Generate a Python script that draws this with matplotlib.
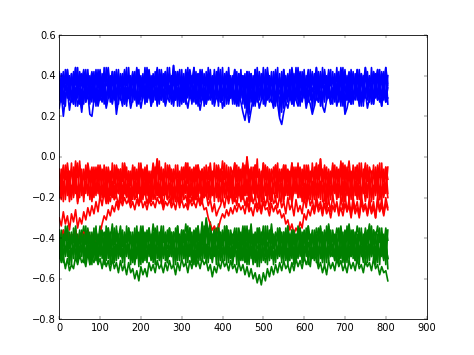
import matplotlib
matplotlib.use("Agg")
import matplotlib.pyplot as plt
import numpy as np

plt.style.use('classic')

# sample index (every 5th step)
steps = np.arange(0, 810, 5)

# blue traces
blue_1 = [0.40,0.34,0.42,0.36,0.43,0.33,0.39,0.35,0.44,0.32,0.41,0.37,0.43,0.34,0.40,0.36,0.42,0.33,
          0.39,0.35,0.43,0.32,0.40,0.37,0.44,0.34,0.41,0.33,0.42,0.36,0.39,0.31,0.43,0.35,0.40,0.34,
          0.42,0.33,0.44,0.36,0.39,0.32,0.41,0.37,0.43,0.34,0.40,0.35,0.44,0.33,0.41,0.36,0.42,0.34,
          0.40,0.35,0.45,0.33,0.42,0.36,0.39,0.32,0.43,0.35,0.41,0.37,0.44,0.34,0.40,0.33,0.42,0.36,
          0.39,0.34,0.43,0.31,0.41,0.36,0.44,0.33,0.40,0.35,0.42,0.32,0.39,0.36,0.43,0.34,0.41,0.33,
          0.38,0.32,0.42,0.35,0.40,0.31,0.43,0.36,0.39,0.33,0.41,0.34,0.44,0.35,0.40,0.32,0.42,0.36,
          0.39,0.33,0.43,0.35,0.41,0.32,0.44,0.36,0.40,0.34,0.42,0.33,0.39,0.35,0.43,0.34,0.41,0.36,
          0.44,0.33,0.40,0.35,0.42,0.32,0.43,0.36,0.39,0.34,0.41,0.33,0.44,0.35,0.40,0.36,0.42,0.33,
          0.39,0.35,0.43,0.32,0.41,0.36,0.44,0.34,0.40,0.33,0.42,0.37,0.43,0.34,0.41,0.35,0.44,0.36]
blue_2 = [0.30,0.37,0.27,0.35,0.31,0.39,0.28,0.34,0.30,0.38,0.26,0.33,0.36,0.29,0.40,0.31,0.35,0.27,
          0.34,0.29,0.38,0.30,0.36,0.27,0.35,0.31,0.39,0.28,0.33,0.37,0.30,0.35,0.26,0.34,0.29,0.38,
          0.31,0.36,0.28,0.39,0.30,0.35,0.27,0.37,0.32,0.29,0.38,0.31,0.34,0.28,0.40,0.30,0.36,0.29,
          0.35,0.31,0.39,0.28,0.34,0.30,0.37,0.27,0.36,0.32,0.29,0.38,0.31,0.35,0.27,0.39,0.30,0.34,
          0.29,0.37,0.31,0.35,0.27,0.38,0.30,0.34,0.28,0.36,0.31,0.39,0.29,0.33,0.26,0.35,0.30,0.37,
          0.28,0.34,0.25,0.36,0.30,0.33,0.27,0.38,0.29,0.35,0.31,0.37,0.28,0.34,0.30,0.39,0.27,0.35,
          0.31,0.36,0.28,0.34,0.30,0.38,0.27,0.35,0.32,0.29,0.37,0.31,0.36,0.28,0.39,0.30,0.34,0.29,
          0.36,0.30,0.38,0.28,0.35,0.31,0.37,0.29,0.34,0.27,0.36,0.31,0.39,0.30,0.35,0.28,0.37,0.32,
          0.29,0.36,0.31,0.38,0.28,0.35,0.30,0.37,0.27,0.34,0.31,0.39,0.29,0.36,0.30,0.38,0.28,0.34]
blue_3 = [0.24,0.31,0.20,0.29,0.33,0.23,0.30,0.26,0.34,0.25,0.30,0.22,0.32,0.27,0.31,0.21,0.20,0.28,
          0.32,0.25,0.30,0.27,0.35,0.24,0.29,0.31,0.26,0.33,0.21,0.28,0.30,0.25,0.34,0.27,0.31,0.24,
          0.29,0.33,0.26,0.31,0.24,0.30,0.35,0.27,0.32,0.25,0.29,0.34,0.26,0.31,0.28,0.33,0.25,0.30,
          0.27,0.32,0.25,0.34,0.28,0.30,0.26,0.33,0.29,0.24,0.31,0.27,0.35,0.26,0.30,0.23,0.29,0.32,
          0.26,0.31,0.28,0.34,0.25,0.30,0.27,0.33,0.24,0.29,0.31,0.26,0.33,0.28,0.30,0.25,0.32,0.27,
          0.22,0.18,0.25,0.17,0.23,0.29,0.26,0.31,0.24,0.28,0.30,0.25,0.33,0.27,0.29,0.24,0.31,0.26,
          0.19,0.16,0.22,0.27,0.24,0.30,0.26,0.32,0.28,0.25,0.31,0.27,0.33,0.24,0.29,0.26,0.21,0.25,
          0.30,0.27,0.32,0.25,0.22,0.28,0.31,0.26,0.29,0.33,0.25,0.30,0.27,0.32,0.21,0.24,0.29,0.26,
          0.31,0.28,0.33,0.25,0.30,0.27,0.32,0.24,0.29,0.31,0.26,0.33,0.28,0.30,0.25,0.32,0.27,0.29]
blue_4 = [0.36,0.30,0.40,0.33,0.38,0.29,0.41,0.34,0.37,0.31,0.42,0.35,0.38,0.30,0.41,0.33,0.39,0.32,
          0.41,0.34,0.37,0.30,0.40,0.35,0.38,0.29,0.42,0.33,0.39,0.31,0.41,0.36,0.37,0.30,0.40,0.34,
          0.38,0.31,0.41,0.35,0.37,0.30,0.42,0.34,0.39,0.32,0.40,0.36,0.38,0.31,0.43,0.35,0.37,0.33,
          0.41,0.32,0.39,0.35,0.42,0.30,0.38,0.34,0.40,0.31,0.43,0.36,0.37,0.33,0.41,0.30,0.39,0.35,
          0.37,0.32,0.40,0.35,0.38,0.30,0.42,0.33,0.39,0.31,0.41,0.36,0.37,0.32,0.40,0.34,0.38,0.31,
          0.40,0.33,0.37,0.29,0.41,0.34,0.38,0.31,0.42,0.35,0.39,0.30,0.40,0.33,0.37,0.31,0.41,0.34,
          0.38,0.30,0.41,0.34,0.37,0.31,0.40,0.35,0.42,0.32,0.39,0.34,0.41,0.30,0.38,0.35,0.40,0.33,
          0.37,0.31,0.42,0.34,0.39,0.30,0.41,0.35,0.38,0.32,0.40,0.34,0.37,0.31,0.42,0.33,0.39,0.35,
          0.41,0.32,0.38,0.34,0.40,0.31,0.42,0.35,0.37,0.33,0.41,0.30,0.39,0.34,0.42,0.32,0.38,0.35]
blue_5 = [0.42,0.27,0.40,0.25,0.43,0.28,0.41,0.26,0.44,0.29,0.40,0.24,0.42,0.27,0.43,0.26,0.41,0.28,
          0.43,0.26,0.40,0.28,0.44,0.25,0.41,0.27,0.42,0.29,0.43,0.26,0.40,0.28,0.42,0.25,0.44,0.27,
          0.41,0.28,0.43,0.26,0.40,0.29,0.44,0.27,0.42,0.25,0.41,0.28,0.43,0.26,0.40,0.27,0.42,0.29,
          0.44,0.26,0.45,0.28,0.41,0.25,0.43,0.27,0.40,0.29,0.42,0.26,0.44,0.28,0.41,0.27,0.43,0.25,
          0.42,0.28,0.40,0.26,0.43,0.29,0.41,0.27,0.44,0.25,0.42,0.28,0.40,0.26,0.43,0.27,0.41,0.29,
          0.40,0.24,0.42,0.21,0.41,0.25,0.43,0.27,0.40,0.28,0.44,0.26,0.41,0.29,0.42,0.25,0.43,0.27,
          0.41,0.22,0.43,0.26,0.40,0.28,0.42,0.25,0.44,0.27,0.41,0.29,0.43,0.26,0.40,0.28,0.42,0.25,
          0.44,0.27,0.41,0.25,0.43,0.28,0.40,0.26,0.42,0.29,0.44,0.27,0.41,0.25,0.43,0.28,0.40,0.26,
          0.42,0.29,0.43,0.27,0.41,0.25,0.44,0.28,0.40,0.26,0.42,0.29,0.43,0.27,0.41,0.28,0.44,0.26]
blue_6 = [0.28,0.41,0.26,0.43,0.29,0.40,0.27,0.42,0.25,0.44,0.28,0.41,0.26,0.43,0.29,0.40,0.27,0.42,
          0.25,0.43,0.28,0.41,0.26,0.44,0.29,0.40,0.27,0.42,0.25,0.43,0.28,0.41,0.26,0.44,0.29,0.40,
          0.27,0.42,0.25,0.43,0.28,0.41,0.26,0.44,0.29,0.40,0.27,0.42,0.25,0.43,0.28,0.41,0.26,0.44,
          0.29,0.40,0.27,0.42,0.25,0.43,0.28,0.41,0.26,0.44,0.29,0.40,0.27,0.42,0.25,0.43,0.28,0.41,
          0.26,0.44,0.29,0.40,0.27,0.42,0.25,0.43,0.28,0.41,0.26,0.44,0.29,0.40,0.27,0.42,0.25,0.43,
          0.26,0.41,0.23,0.42,0.27,0.40,0.25,0.44,0.28,0.41,0.26,0.43,0.29,0.40,0.27,0.42,0.25,0.44,
          0.20,0.42,0.24,0.40,0.27,0.43,0.26,0.41,0.28,0.44,0.25,0.42,0.29,0.40,0.27,0.43,0.23,0.41,
          0.28,0.42,0.25,0.44,0.27,0.40,0.29,0.43,0.26,0.41,0.28,0.42,0.25,0.44,0.23,0.40,0.27,0.43,
          0.26,0.41,0.28,0.43,0.25,0.40,0.29,0.42,0.27,0.44,0.26,0.41,0.28,0.43,0.25,0.42,0.27,0.40]

# red traces
red_1 = [-0.08,-0.13,-0.05,-0.11,-0.03,-0.12,-0.06,-0.14,-0.02,-0.10,-0.04,-0.13,-0.07,-0.11,-0.03,-0.09,-0.05,-0.14,
         -0.06,-0.12,-0.04,-0.10,-0.07,-0.15,-0.05,-0.11,-0.08,-0.13,-0.04,-0.10,-0.06,-0.12,-0.03,-0.11,-0.07,-0.14,
         -0.05,-0.10,-0.07,-0.13,-0.04,-0.11,-0.06,-0.14,-0.08,-0.12,-0.03,-0.09,-0.01,-0.11,-0.05,-0.13,-0.07,-0.10,
         -0.04,-0.12,-0.06,-0.10,-0.08,-0.14,-0.05,-0.11,-0.03,-0.13,-0.07,-0.10,-0.05,-0.12,-0.04,-0.09,-0.06,-0.14,
         -0.07,-0.11,-0.03,-0.13,-0.06,-0.10,-0.04,-0.12,-0.02,-0.11,-0.07,-0.14,-0.05,-0.09,-0.03,-0.12,-0.06,-0.10,
         -0.04,-0.11,0.00,-0.09,-0.06,-0.13,-0.04,-0.10,-0.07,-0.12,-0.03,-0.11,-0.05,-0.13,-0.06,-0.09,-0.04,-0.12,
         -0.07,-0.10,-0.04,-0.13,-0.06,-0.11,-0.03,-0.12,-0.08,-0.10,-0.05,-0.14,-0.07,-0.11,-0.04,-0.12,-0.06,-0.10,
         -0.03,-0.11,-0.01,-0.12,-0.05,-0.09,-0.07,-0.13,-0.04,-0.10,-0.06,-0.12,-0.03,-0.11,-0.05,-0.09,-0.02,-0.12,
         -0.06,-0.10,-0.04,-0.13,-0.07,-0.11,-0.03,-0.12,-0.05,-0.09,-0.06,-0.13,-0.04,-0.10,-0.07,-0.12,-0.05,-0.11]
red_2 = [-0.15,-0.21,-0.12,-0.18,-0.10,-0.22,-0.14,-0.19,-0.11,-0.23,-0.16,-0.13,-0.20,-0.12,-0.18,-0.15,-0.22,-0.11,
         -0.17,-0.13,-0.21,-0.14,-0.19,-0.10,-0.23,-0.16,-0.12,-0.20,-0.15,-0.18,-0.11,-0.22,-0.14,-0.19,-0.13,-0.21,
         -0.16,-0.12,-0.20,-0.14,-0.22,-0.11,-0.18,-0.15,-0.21,-0.13,-0.17,-0.10,-0.19,-0.14,-0.23,-0.12,-0.18,-0.16,
         -0.13,-0.21,-0.15,-0.19,-0.11,-0.22,-0.14,-0.18,-0.12,-0.20,-0.16,-0.13,-0.21,-0.15,-0.19,-0.11,-0.23,-0.14,
         -0.18,-0.12,-0.21,-0.15,-0.19,-0.13,-0.22,-0.16,-0.11,-0.20,-0.14,-0.18,-0.12,-0.23,-0.15,-0.19,-0.13,-0.21,
         -0.14,-0.19,-0.11,-0.22,-0.16,-0.13,-0.20,-0.15,-0.24,-0.12,-0.18,-0.14,-0.21,-0.13,-0.19,-0.16,-0.22,-0.12,
         -0.17,-0.13,-0.21,-0.15,-0.19,-0.11,-0.23,-0.16,-0.12,-0.20,-0.14,-0.18,-0.13,-0.22,-0.15,-0.19,-0.12,-0.21,
         -0.15,-0.20,-0.12,-0.18,-0.14,-0.23,-0.11,-0.19,-0.16,-0.13,-0.21,-0.15,-0.18,-0.12,-0.22,-0.14,-0.20,-0.13,
         -0.18,-0.12,-0.21,-0.16,-0.19,-0.13,-0.22,-0.15,-0.11,-0.20,-0.14,-0.18,-0.12,-0.21,-0.15,-0.19,-0.13,-0.20]
red_3 = [-0.38,-0.41,-0.36,-0.40,-0.37,-0.42,-0.38,-0.39,-0.36,-0.41,-0.38,-0.40,-0.37,-0.39,-0.36,-0.40,-0.38,-0.41,
         -0.42,-0.43,-0.38,-0.33,-0.29,-0.31,-0.26,-0.29,-0.24,-0.27,-0.22,-0.26,-0.21,-0.24,-0.20,-0.23,-0.21,-0.25,
         -0.22,-0.26,-0.21,-0.24,-0.20,-0.25,-0.22,-0.26,-0.21,-0.24,-0.22,-0.25,-0.20,-0.23,-0.21,-0.26,-0.22,-0.24,
         -0.21,-0.25,-0.22,-0.26,-0.20,-0.24,-0.21,-0.25,-0.23,-0.26,-0.21,-0.24,-0.22,-0.25,-0.20,-0.24,-0.22,-0.26,
         -0.25,-0.30,-0.33,-0.36,-0.34,-0.37,-0.35,-0.31,-0.28,-0.30,-0.26,-0.29,-0.25,-0.28,-0.24,-0.27,-0.23,-0.26,
         -0.24,-0.28,-0.22,-0.27,-0.25,-0.29,-0.23,-0.27,-0.24,-0.28,-0.22,-0.26,-0.25,-0.29,-0.23,-0.27,-0.24,-0.28,
         -0.26,-0.30,-0.28,-0.33,-0.31,-0.36,-0.33,-0.38,-0.35,-0.37,-0.32,-0.35,-0.28,-0.31,-0.26,-0.29,-0.24,-0.28,
         -0.22,-0.27,-0.24,-0.29,-0.23,-0.28,-0.25,-0.30,-0.24,-0.27,-0.22,-0.28,-0.25,-0.29,-0.23,-0.27,-0.24,-0.30,
         -0.23,-0.28,-0.25,-0.30,-0.22,-0.27,-0.24,-0.29,-0.23,-0.28,-0.25,-0.30,-0.22,-0.27,-0.24,-0.29,-0.23,-0.26]
red_4 = [-0.30,-0.34,-0.27,-0.33,-0.29,-0.36,-0.28,-0.32,-0.26,-0.35,-0.30,-0.33,-0.27,-0.31,-0.25,-0.29,-0.24,-0.28,
         -0.22,-0.27,-0.19,-0.24,-0.17,-0.23,-0.18,-0.22,-0.16,-0.21,-0.19,-0.24,-0.17,-0.22,-0.15,-0.20,-0.18,-0.23,
         -0.16,-0.21,-0.18,-0.24,-0.15,-0.20,-0.17,-0.23,-0.19,-0.22,-0.16,-0.21,-0.14,-0.20,-0.18,-0.24,-0.16,-0.21,
         -0.19,-0.23,-0.16,-0.22,-0.18,-0.25,-0.15,-0.21,-0.19,-0.24,-0.17,-0.22,-0.16,-0.21,-0.18,-0.23,-0.15,-0.20,
         -0.18,-0.24,-0.21,-0.27,-0.23,-0.29,-0.26,-0.24,-0.20,-0.25,-0.18,-0.23,-0.17,-0.22,-0.19,-0.24,-0.16,-0.21,
         -0.18,-0.24,-0.20,-0.26,-0.17,-0.23,-0.19,-0.25,-0.21,-0.27,-0.18,-0.24,-0.20,-0.26,-0.17,-0.23,-0.21,-0.25,
         -0.19,-0.25,-0.22,-0.28,-0.20,-0.26,-0.23,-0.29,-0.21,-0.27,-0.24,-0.28,-0.20,-0.25,-0.18,-0.24,-0.21,-0.27,
         -0.19,-0.25,-0.22,-0.28,-0.18,-0.26,-0.21,-0.27,-0.19,-0.25,-0.23,-0.29,-0.20,-0.26,-0.18,-0.27,-0.21,-0.28,
         -0.20,-0.26,-0.22,-0.29,-0.19,-0.25,-0.23,-0.28,-0.20,-0.27,-0.22,-0.30,-0.19,-0.26,-0.21,-0.28,-0.20,-0.25]
red_5 = [-0.06,-0.19,-0.04,-0.21,-0.07,-0.18,-0.03,-0.20,-0.05,-0.22,-0.02,-0.19,-0.06,-0.18,-0.04,-0.21,-0.07,-0.20,
         -0.05,-0.18,-0.06,-0.20,-0.04,-0.22,-0.07,-0.19,-0.03,-0.21,-0.05,-0.18,-0.06,-0.20,-0.04,-0.19,-0.07,-0.22,
         -0.04,-0.20,-0.06,-0.18,-0.03,-0.21,-0.05,-0.19,-0.07,-0.22,-0.04,-0.18,-0.01,-0.20,-0.06,-0.19,-0.03,-0.21,
         -0.05,-0.19,-0.07,-0.21,-0.04,-0.18,-0.06,-0.20,-0.03,-0.22,-0.05,-0.19,-0.07,-0.21,-0.04,-0.18,-0.06,-0.20,
         -0.04,-0.21,-0.06,-0.19,-0.03,-0.20,-0.05,-0.22,-0.07,-0.18,-0.04,-0.21,-0.06,-0.19,-0.03,-0.20,-0.05,-0.22,
         -0.03,-0.19,0.00,-0.21,-0.05,-0.18,-0.04,-0.20,-0.06,-0.22,-0.03,-0.19,-0.05,-0.21,-0.07,-0.18,-0.04,-0.20,
         -0.06,-0.22,-0.04,-0.19,-0.07,-0.21,-0.03,-0.18,-0.05,-0.20,-0.06,-0.22,-0.04,-0.19,-0.07,-0.21,-0.03,-0.18,
         -0.05,-0.20,-0.01,-0.22,-0.04,-0.19,-0.06,-0.21,-0.03,-0.18,-0.05,-0.20,-0.02,-0.22,-0.04,-0.19,-0.06,-0.21,
         -0.04,-0.19,-0.06,-0.21,-0.03,-0.18,-0.05,-0.20,-0.07,-0.22,-0.04,-0.19,-0.06,-0.21,-0.03,-0.20,-0.05,-0.18]
red_6 = [-0.20,-0.06,-0.22,-0.04,-0.19,-0.07,-0.21,-0.05,-0.18,-0.03,-0.20,-0.06,-0.22,-0.04,-0.19,-0.07,-0.21,-0.05,
         -0.19,-0.04,-0.21,-0.06,-0.18,-0.05,-0.22,-0.07,-0.20,-0.04,-0.19,-0.06,-0.21,-0.03,-0.18,-0.05,-0.22,-0.07,
         -0.21,-0.05,-0.19,-0.03,-0.22,-0.06,-0.18,-0.04,-0.20,-0.07,-0.21,-0.05,-0.19,-0.02,-0.22,-0.06,-0.18,-0.04,
         -0.20,-0.06,-0.22,-0.04,-0.19,-0.07,-0.21,-0.05,-0.18,-0.03,-0.20,-0.06,-0.22,-0.04,-0.19,-0.07,-0.21,-0.05,
         -0.18,-0.05,-0.20,-0.07,-0.22,-0.04,-0.19,-0.06,-0.21,-0.03,-0.18,-0.05,-0.20,-0.07,-0.22,-0.04,-0.19,-0.06,
         -0.21,-0.04,-0.19,-0.06,-0.22,-0.05,-0.18,-0.01,-0.20,-0.07,-0.21,-0.04,-0.19,-0.06,-0.22,-0.05,-0.18,-0.03,
         -0.20,-0.06,-0.22,-0.04,-0.19,-0.07,-0.21,-0.05,-0.18,-0.03,-0.20,-0.06,-0.22,-0.04,-0.19,-0.07,-0.21,-0.05,
         -0.19,-0.04,-0.21,-0.06,-0.18,-0.05,-0.22,-0.07,-0.20,-0.04,-0.19,-0.06,-0.21,-0.03,-0.18,-0.05,-0.22,-0.07,
         -0.21,-0.05,-0.19,-0.03,-0.22,-0.06,-0.18,-0.04,-0.20,-0.07,-0.21,-0.05,-0.19,-0.03,-0.22,-0.06,-0.18,-0.05]

# green traces
green_1 = [-0.37,-0.43,-0.36,-0.41,-0.34,-0.44,-0.38,-0.42,-0.35,-0.45,-0.37,-0.40,-0.34,-0.43,-0.36,-0.41,-0.38,-0.44,
           -0.36,-0.42,-0.34,-0.40,-0.37,-0.45,-0.35,-0.41,-0.33,-0.43,-0.36,-0.40,-0.34,-0.44,-0.37,-0.42,-0.35,-0.41,
           -0.38,-0.44,-0.36,-0.42,-0.34,-0.45,-0.37,-0.41,-0.35,-0.43,-0.33,-0.40,-0.36,-0.44,-0.34,-0.42,-0.37,-0.41,
           -0.35,-0.43,-0.37,-0.40,-0.34,-0.44,-0.36,-0.42,-0.33,-0.41,-0.35,-0.45,-0.36,-0.40,-0.34,-0.43,-0.32,-0.41,
           -0.30,-0.38,-0.32,-0.42,-0.35,-0.40,-0.33,-0.44,-0.36,-0.41,-0.34,-0.43,-0.37,-0.40,-0.35,-0.44,-0.36,-0.42,
           -0.34,-0.43,-0.36,-0.41,-0.33,-0.45,-0.37,-0.40,-0.35,-0.42,-0.34,-0.44,-0.36,-0.41,-0.33,-0.43,-0.37,-0.40,
           -0.35,-0.42,-0.37,-0.44,-0.34,-0.41,-0.36,-0.43,-0.38,-0.40,-0.35,-0.44,-0.36,-0.42,-0.34,-0.41,-0.37,-0.43,
           -0.35,-0.40,-0.34,-0.44,-0.36,-0.41,-0.33,-0.43,-0.37,-0.42,-0.35,-0.40,-0.34,-0.44,-0.36,-0.41,-0.33,-0.43,
           -0.36,-0.42,-0.34,-0.40,-0.37,-0.44,-0.35,-0.41,-0.33,-0.43,-0.36,-0.40,-0.34,-0.42,-0.37,-0.44,-0.35,-0.41]
green_2 = [-0.44,-0.49,-0.41,-0.47,-0.43,-0.51,-0.45,-0.48,-0.40,-0.50,-0.44,-0.47,-0.42,-0.52,-0.46,-0.49,-0.43,-0.48,
           -0.45,-0.50,-0.42,-0.48,-0.44,-0.51,-0.41,-0.47,-0.45,-0.52,-0.43,-0.49,-0.46,-0.50,-0.42,-0.48,-0.44,-0.51,
           -0.47,-0.53,-0.45,-0.50,-0.43,-0.52,-0.46,-0.49,-0.44,-0.51,-0.42,-0.48,-0.45,-0.50,-0.43,-0.49,-0.46,-0.52,
           -0.44,-0.49,-0.42,-0.51,-0.45,-0.48,-0.43,-0.50,-0.41,-0.47,-0.44,-0.52,-0.46,-0.49,-0.42,-0.48,-0.40,-0.47,
           -0.43,-0.50,-0.45,-0.52,-0.44,-0.49,-0.42,-0.51,-0.46,-0.48,-0.43,-0.50,-0.45,-0.53,-0.44,-0.49,-0.42,-0.51,
           -0.45,-0.52,-0.47,-0.50,-0.44,-0.53,-0.46,-0.49,-0.43,-0.51,-0.45,-0.52,-0.47,-0.50,-0.44,-0.51,-0.46,-0.49,
           -0.44,-0.50,-0.42,-0.51,-0.45,-0.48,-0.43,-0.52,-0.46,-0.49,-0.41,-0.50,-0.44,-0.47,-0.42,-0.49,-0.45,-0.51,
           -0.43,-0.48,-0.45,-0.52,-0.42,-0.50,-0.44,-0.49,-0.46,-0.51,-0.43,-0.48,-0.45,-0.52,-0.42,-0.50,-0.44,-0.49,
           -0.46,-0.51,-0.43,-0.49,-0.45,-0.52,-0.42,-0.50,-0.44,-0.48,-0.46,-0.53,-0.43,-0.49,-0.45,-0.51,-0.44,-0.50]
green_3 = [-0.47,-0.52,-0.49,-0.55,-0.50,-0.56,-0.53,-0.55,-0.49,-0.53,-0.48,-0.52,-0.50,-0.54,-0.47,-0.53,-0.49,-0.52,
           -0.48,-0.53,-0.50,-0.55,-0.49,-0.54,-0.51,-0.56,-0.50,-0.55,-0.52,-0.57,-0.51,-0.56,-0.53,-0.58,-0.52,-0.57,
           -0.55,-0.60,-0.56,-0.61,-0.54,-0.58,-0.55,-0.59,-0.52,-0.56,-0.53,-0.57,-0.51,-0.55,-0.53,-0.57,-0.52,-0.56,
           -0.51,-0.55,-0.53,-0.58,-0.52,-0.56,-0.50,-0.54,-0.52,-0.57,-0.51,-0.55,-0.49,-0.54,-0.51,-0.55,-0.50,-0.53,
           -0.51,-0.56,-0.53,-0.59,-0.54,-0.57,-0.52,-0.55,-0.50,-0.54,-0.52,-0.56,-0.51,-0.55,-0.53,-0.57,-0.52,-0.56,
           -0.53,-0.58,-0.54,-0.59,-0.55,-0.60,-0.57,-0.62,-0.58,-0.63,-0.57,-0.61,-0.55,-0.59,-0.54,-0.58,-0.53,-0.57,
           -0.52,-0.56,-0.51,-0.55,-0.53,-0.57,-0.52,-0.56,-0.50,-0.54,-0.51,-0.55,-0.49,-0.53,-0.50,-0.54,-0.45,-0.49,
           -0.50,-0.55,-0.52,-0.57,-0.53,-0.58,-0.51,-0.55,-0.52,-0.56,-0.50,-0.54,-0.51,-0.56,-0.53,-0.57,-0.51,-0.55,
           -0.52,-0.56,-0.50,-0.55,-0.53,-0.57,-0.51,-0.54,-0.52,-0.56,-0.50,-0.55,-0.53,-0.58,-0.54,-0.57,-0.56,-0.61]
green_4 = [-0.40,-0.46,-0.39,-0.48,-0.42,-0.45,-0.38,-0.47,-0.41,-0.49,-0.40,-0.45,-0.43,-0.48,-0.39,-0.46,-0.41,-0.47,
           -0.42,-0.48,-0.40,-0.46,-0.43,-0.49,-0.39,-0.45,-0.41,-0.47,-0.38,-0.46,-0.42,-0.48,-0.40,-0.45,-0.43,-0.49,
           -0.41,-0.47,-0.39,-0.46,-0.42,-0.48,-0.40,-0.45,-0.43,-0.49,-0.38,-0.46,-0.41,-0.47,-0.39,-0.48,-0.42,-0.45,
           -0.40,-0.46,-0.42,-0.48,-0.39,-0.45,-0.41,-0.47,-0.38,-0.46,-0.43,-0.49,-0.40,-0.45,-0.42,-0.47,-0.37,-0.44,
           -0.35,-0.43,-0.38,-0.46,-0.40,-0.47,-0.39,-0.45,-0.42,-0.48,-0.40,-0.46,-0.41,-0.47,-0.39,-0.45,-0.42,-0.48,
           -0.40,-0.46,-0.42,-0.48,-0.39,-0.47,-0.41,-0.45,-0.43,-0.49,-0.40,-0.46,-0.42,-0.48,-0.39,-0.45,-0.41,-0.47,
           -0.40,-0.46,-0.43,-0.48,-0.39,-0.45,-0.41,-0.47,-0.42,-0.49,-0.40,-0.46,-0.38,-0.44,-0.36,-0.42,-0.40,-0.46,
           -0.41,-0.47,-0.39,-0.45,-0.42,-0.48,-0.40,-0.46,-0.43,-0.49,-0.41,-0.47,-0.39,-0.45,-0.42,-0.48,-0.40,-0.46,
           -0.42,-0.48,-0.40,-0.46,-0.41,-0.47,-0.39,-0.45,-0.43,-0.49,-0.40,-0.46,-0.42,-0.48,-0.41,-0.47,-0.43,-0.50]
green_5 = [-0.36,-0.51,-0.38,-0.49,-0.35,-0.53,-0.37,-0.50,-0.34,-0.52,-0.36,-0.49,-0.38,-0.51,-0.35,-0.53,-0.37,-0.50,
           -0.34,-0.52,-0.36,-0.50,-0.38,-0.49,-0.35,-0.53,-0.37,-0.51,-0.34,-0.50,-0.36,-0.52,-0.38,-0.49,-0.35,-0.53,
           -0.37,-0.51,-0.34,-0.54,-0.36,-0.50,-0.38,-0.52,-0.35,-0.49,-0.37,-0.53,-0.34,-0.51,-0.36,-0.50,-0.38,-0.52,
           -0.35,-0.49,-0.37,-0.53,-0.34,-0.51,-0.36,-0.50,-0.38,-0.52,-0.35,-0.49,-0.37,-0.53,-0.34,-0.51,-0.33,-0.50,
           -0.31,-0.52,-0.34,-0.50,-0.36,-0.53,-0.35,-0.49,-0.37,-0.51,-0.34,-0.52,-0.36,-0.50,-0.38,-0.53,-0.35,-0.49,
           -0.37,-0.51,-0.34,-0.53,-0.36,-0.50,-0.38,-0.54,-0.35,-0.52,-0.37,-0.49,-0.34,-0.51,-0.36,-0.53,-0.38,-0.50,
           -0.35,-0.52,-0.37,-0.49,-0.34,-0.51,-0.36,-0.53,-0.38,-0.50,-0.35,-0.52,-0.37,-0.49,-0.34,-0.51,-0.36,-0.50,
           -0.38,-0.53,-0.35,-0.50,-0.37,-0.52,-0.34,-0.49,-0.36,-0.51,-0.38,-0.53,-0.35,-0.50,-0.37,-0.52,-0.34,-0.49,
           -0.36,-0.51,-0.38,-0.53,-0.35,-0.50,-0.37,-0.52,-0.34,-0.49,-0.36,-0.51,-0.38,-0.53,-0.35,-0.50,-0.37,-0.55]
green_6 = [-0.50,-0.36,-0.52,-0.34,-0.49,-0.37,-0.53,-0.35,-0.51,-0.38,-0.50,-0.36,-0.52,-0.34,-0.49,-0.37,-0.53,-0.35,
           -0.51,-0.38,-0.49,-0.36,-0.53,-0.34,-0.50,-0.37,-0.52,-0.35,-0.51,-0.38,-0.49,-0.36,-0.53,-0.34,-0.50,-0.37,
           -0.52,-0.35,-0.50,-0.37,-0.53,-0.34,-0.51,-0.36,-0.49,-0.38,-0.52,-0.35,-0.50,-0.37,-0.53,-0.34,-0.51,-0.36,
           -0.49,-0.37,-0.53,-0.35,-0.51,-0.38,-0.50,-0.36,-0.52,-0.34,-0.49,-0.37,-0.53,-0.35,-0.51,-0.38,-0.50,-0.34,
           -0.52,-0.36,-0.50,-0.38,-0.49,-0.35,-0.53,-0.37,-0.51,-0.34,-0.52,-0.36,-0.50,-0.38,-0.49,-0.35,-0.53,-0.37,
           -0.51,-0.34,-0.53,-0.36,-0.50,-0.38,-0.52,-0.35,-0.54,-0.37,-0.51,-0.34,-0.53,-0.36,-0.50,-0.38,-0.52,-0.35,
           -0.49,-0.37,-0.51,-0.35,-0.53,-0.38,-0.50,-0.36,-0.52,-0.34,-0.49,-0.37,-0.51,-0.35,-0.53,-0.38,-0.50,-0.36,
           -0.52,-0.35,-0.50,-0.37,-0.53,-0.34,-0.51,-0.36,-0.49,-0.38,-0.52,-0.35,-0.50,-0.37,-0.53,-0.34,-0.51,-0.36,
           -0.50,-0.37,-0.52,-0.35,-0.49,-0.38,-0.53,-0.36,-0.51,-0.34,-0.50,-0.37,-0.52,-0.35,-0.49,-0.38,-0.53,-0.36]

blues = [blue_1, blue_2, blue_3, blue_4, blue_5, blue_6]
reds = [red_1, red_2, red_3, red_4, red_5, red_6]
greens = [green_1, green_2, green_3, green_4, green_5, green_6]

fig, ax = plt.subplots(figsize=(8, 6), dpi=59.25)

# one blue, one red, one green per run, like the original loop
# (thicker lines stand in for the much finer sampling of the original)
for b, r, g in zip(blues, reds, greens):
    ax.plot(steps, b, 'b-', lw=2.0)
    ax.plot(steps, r, 'r-', lw=2.0)
    ax.plot(steps, g, 'g-', lw=2.0)

ax.set_xlim(0, 900)
ax.set_ylim(-0.8, 0.6)

fig.savefig('out.png', dpi=59.25)
